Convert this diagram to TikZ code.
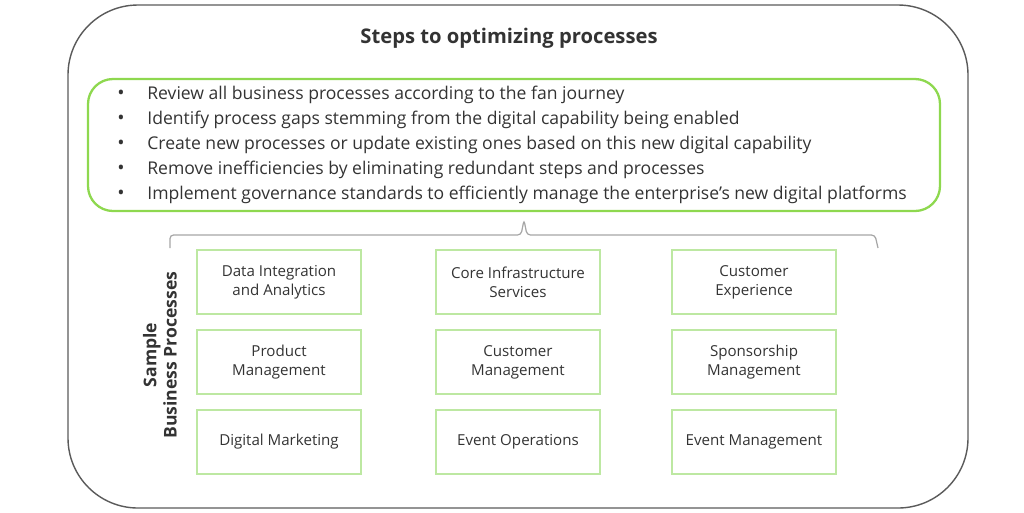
\documentclass[tikz,border=0pt]{standalone}
\usepackage{fontspec}
\setmainfont{Open Sans}
\usepackage{xcolor}
\usetikzlibrary{positioning}
\definecolor{txt}{HTML}{333333}
\definecolor{lime}{HTML}{8ED84F}
\definecolor{palelime}{HTML}{BDE8A2}
\definecolor{frame}{HTML}{5A5A5A}
\begin{document}
\begin{tikzpicture}[
  x=0.02cm, y=-0.02cm,
  every node/.style={align=center, text=txt},
  proc/.style={rectangle, draw=palelime, line width=0.9pt, minimum width=3.28cm, minimum height=1.28cm, font=\fontsize{8.6}{10.8}\selectfont},
  item/.style={anchor=west, inner sep=0pt, font=\fontsize{10}{12}\selectfont},
  dot/.style={anchor=center, inner sep=0pt, font=\fontsize{11}{11}\selectfont}
]
  \useasboundingbox (0,0) rectangle (1024,512);
  \draw[frame, line width=0.8pt, rounded corners=1.4cm] (68,5) rectangle (968,508);
  \node[font=\bfseries\fontsize{11.5}{13}\selectfont] (title) at (509,38) {Steps to optimizing processes};

  \draw[lime, line width=1.3pt, rounded corners=0.5cm] (88,79) rectangle (940,211);
  \foreach \y/\t [count=\i] in {
      95/Review all business processes according to the fan journey,
      120/Identify process gaps stemming from the digital capability being enabled,
      145/Create new processes or update existing ones based on this new digital capability,
      170/Remove inefficiencies by eliminating redundant steps and processes,
      195/Implement governance standards to efficiently manage the enterprise’s new digital platforms} {
    \node[dot] (b\i) at (121,\y) {•};
    \node[item] (s\i) at (147,\y) {\t};
  }

  % bracket over the process grid
  \coordinate (bl) at (170,248);
  \coordinate (br) at (878,248);
  \coordinate (bt) at (524,220);
  \draw[gray!70, line width=0.7pt, rounded corners=2pt]
    (bl) -- ++(0,-13) -- (521,235) -- (bt) -- (527,235) -- (875,235) -- (br);

  \node[font=\bfseries\fontsize{10}{11.5}\selectfont, rotate=90] (lbl) at (160,355) {Sample\\Business Processes};

  \node[proc] (dia) at (279,282) {Data Integration\\and Analytics};
  \node[proc] (cis) at (518,282) {Core Infrastructure\\Services};
  \node[proc] (cx)  at (754,282) {Customer\\Experience};
  \node[proc] (pm)  at (279,362) {Product\\Management};
  \node[proc] (cm)  at (518,362) {Customer\\Management};
  \node[proc] (sm)  at (754,362) {Sponsorship\\Management};
  \node[proc] (dm)  at (279,442) {Digital Marketing};
  \node[proc] (eo)  at (518,442) {Event Operations};
  \node[proc] (em)  at (754,442) {Event Management};
\end{tikzpicture}
\end{document}
